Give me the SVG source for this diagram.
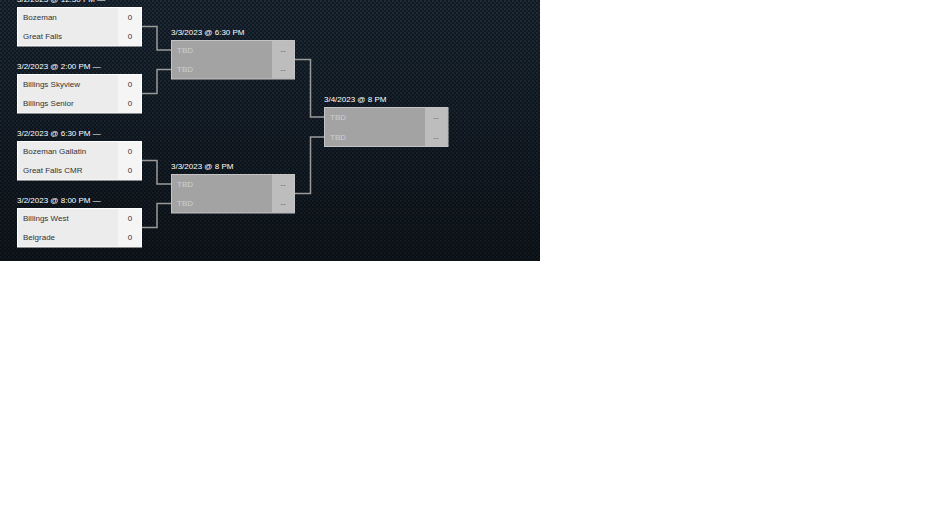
<svg xmlns="http://www.w3.org/2000/svg" width="933" height="525" viewBox="0 0 933 525">
<defs>
<pattern id="carbon" width="4" height="4" patternUnits="userSpaceOnUse">
<rect width="4" height="4" fill="#111a23"/>
<rect x="0" y="0" width="2" height="2" fill="#1e2b38"/>
<rect x="2" y="2" width="2" height="2" fill="#1a2632"/>
</pattern>
<linearGradient id="shade" x1="0" y1="0" x2="0" y2="1">
<stop offset="0" stop-color="#000" stop-opacity="0"/>
<stop offset="1" stop-color="#000" stop-opacity="0.45"/>
</linearGradient>
<style>
.lbl{font-family:"Liberation Sans",Arial,sans-serif;font-size:8px;fill:#ffffff}
.team{font-family:"Liberation Sans",Arial,sans-serif;font-size:8px;fill:#333333}
.tbd{font-family:"Liberation Sans",Arial,sans-serif;font-size:8px;fill:#cfcfcf}
.dash{font-family:"Liberation Sans",Arial,sans-serif;font-size:8px;fill:#666666}
.b1{fill:#ececec;stroke:#ffffff;stroke-width:1}
.s1{fill:#f5f5f5}
.b2{fill:#a3a3a3;stroke:#c4c4c4;stroke-width:1}
.s2{fill:#bdbdbd}
.conn{fill:none;stroke:#9a9a9a;stroke-width:1.5}
</style>
</defs>
<rect width="933" height="525" fill="#ffffff"/>
<rect width="540" height="261" fill="url(#carbon)"/>
<rect width="540" height="261" fill="url(#shade)"/>

<g id="connectors">
<path class="conn" d="M142 26.5 H157 V50 H171"/>
<path class="conn" d="M142 93.5 H157 V69.5 H171"/>
<path class="conn" d="M142 160.5 H157 V184 H171"/>
<path class="conn" d="M142 227.5 H157 V203.5 H171"/>
<path class="conn" d="M295 59.5 H310.5 V117 H324"/>
<path class="conn" d="M295 193.5 H310.5 V137 H324"/>
</g>

<g id="m1">
<text class="lbl" x="17" y="2">3/2/2023 @ 12:30 PM —</text>
<rect class="b1" x="17.5" y="7.5" width="124" height="38.5"/>
<rect class="s1" x="118" y="8" width="23" height="37.5"/>
<text class="team" x="23" y="19.5">Bozeman</text>
<text class="team" x="130" y="19.5" text-anchor="middle">0</text>
<text class="team" x="23" y="39">Great Falls</text>
<text class="team" x="130" y="39" text-anchor="middle">0</text>
</g>

<g id="m2">
<text class="lbl" x="17" y="69">3/2/2023 @ 2:00 PM —</text>
<rect class="b1" x="17.5" y="74.5" width="124" height="38.5"/>
<rect class="s1" x="118" y="75" width="23" height="37.5"/>
<text class="team" x="23" y="86.5">Billings Skyview</text>
<text class="team" x="130" y="86.5" text-anchor="middle">0</text>
<text class="team" x="23" y="106">Billings Senior</text>
<text class="team" x="130" y="106" text-anchor="middle">0</text>
</g>

<g id="m3">
<text class="lbl" x="17" y="136">3/2/2023 @ 6:30 PM —</text>
<rect class="b1" x="17.5" y="141.5" width="124" height="38.5"/>
<rect class="s1" x="118" y="142" width="23" height="37.5"/>
<text class="team" x="23" y="153.5">Bozeman Gallatin</text>
<text class="team" x="130" y="153.5" text-anchor="middle">0</text>
<text class="team" x="23" y="173">Great Falls CMR</text>
<text class="team" x="130" y="173" text-anchor="middle">0</text>
</g>

<g id="m4">
<text class="lbl" x="17" y="203">3/2/2023 @ 8:00 PM —</text>
<rect class="b1" x="17.5" y="208.5" width="124" height="38.5"/>
<rect class="s1" x="118" y="209" width="23" height="37.5"/>
<text class="team" x="23" y="220.5">Billings West</text>
<text class="team" x="130" y="220.5" text-anchor="middle">0</text>
<text class="team" x="23" y="240">Belgrade</text>
<text class="team" x="130" y="240" text-anchor="middle">0</text>
</g>

<g id="m5">
<text class="lbl" x="171" y="35">3/3/2023 @ 6:30 PM</text>
<rect class="b2" x="171.5" y="40.5" width="123" height="38.5"/>
<rect class="s2" x="272" y="41" width="22" height="37.5"/>
<text class="tbd" x="177" y="52.5">TBD</text>
<text class="dash" x="283" y="52.5" text-anchor="middle">--</text>
<text class="tbd" x="177" y="72">TBD</text>
<text class="dash" x="283" y="72" text-anchor="middle">--</text>
</g>

<g id="m6">
<text class="lbl" x="171" y="169">3/3/2023 @ 8 PM</text>
<rect class="b2" x="171.5" y="174.5" width="123" height="38.5"/>
<rect class="s2" x="272" y="175" width="22" height="37.5"/>
<text class="tbd" x="177" y="186.5">TBD</text>
<text class="dash" x="283" y="186.5" text-anchor="middle">--</text>
<text class="tbd" x="177" y="206">TBD</text>
<text class="dash" x="283" y="206" text-anchor="middle">--</text>
</g>

<g id="m7">
<text class="lbl" x="324" y="102">3/4/2023 @ 8 PM</text>
<rect class="b2" x="324.5" y="107.5" width="123.5" height="39"/>
<rect class="s2" x="425" y="108" width="22.5" height="38"/>
<text class="tbd" x="330" y="119.5">TBD</text>
<text class="dash" x="436" y="119.5" text-anchor="middle">--</text>
<text class="tbd" x="330" y="139.5">TBD</text>
<text class="dash" x="436" y="139.5" text-anchor="middle">--</text>
</g>
</svg>
